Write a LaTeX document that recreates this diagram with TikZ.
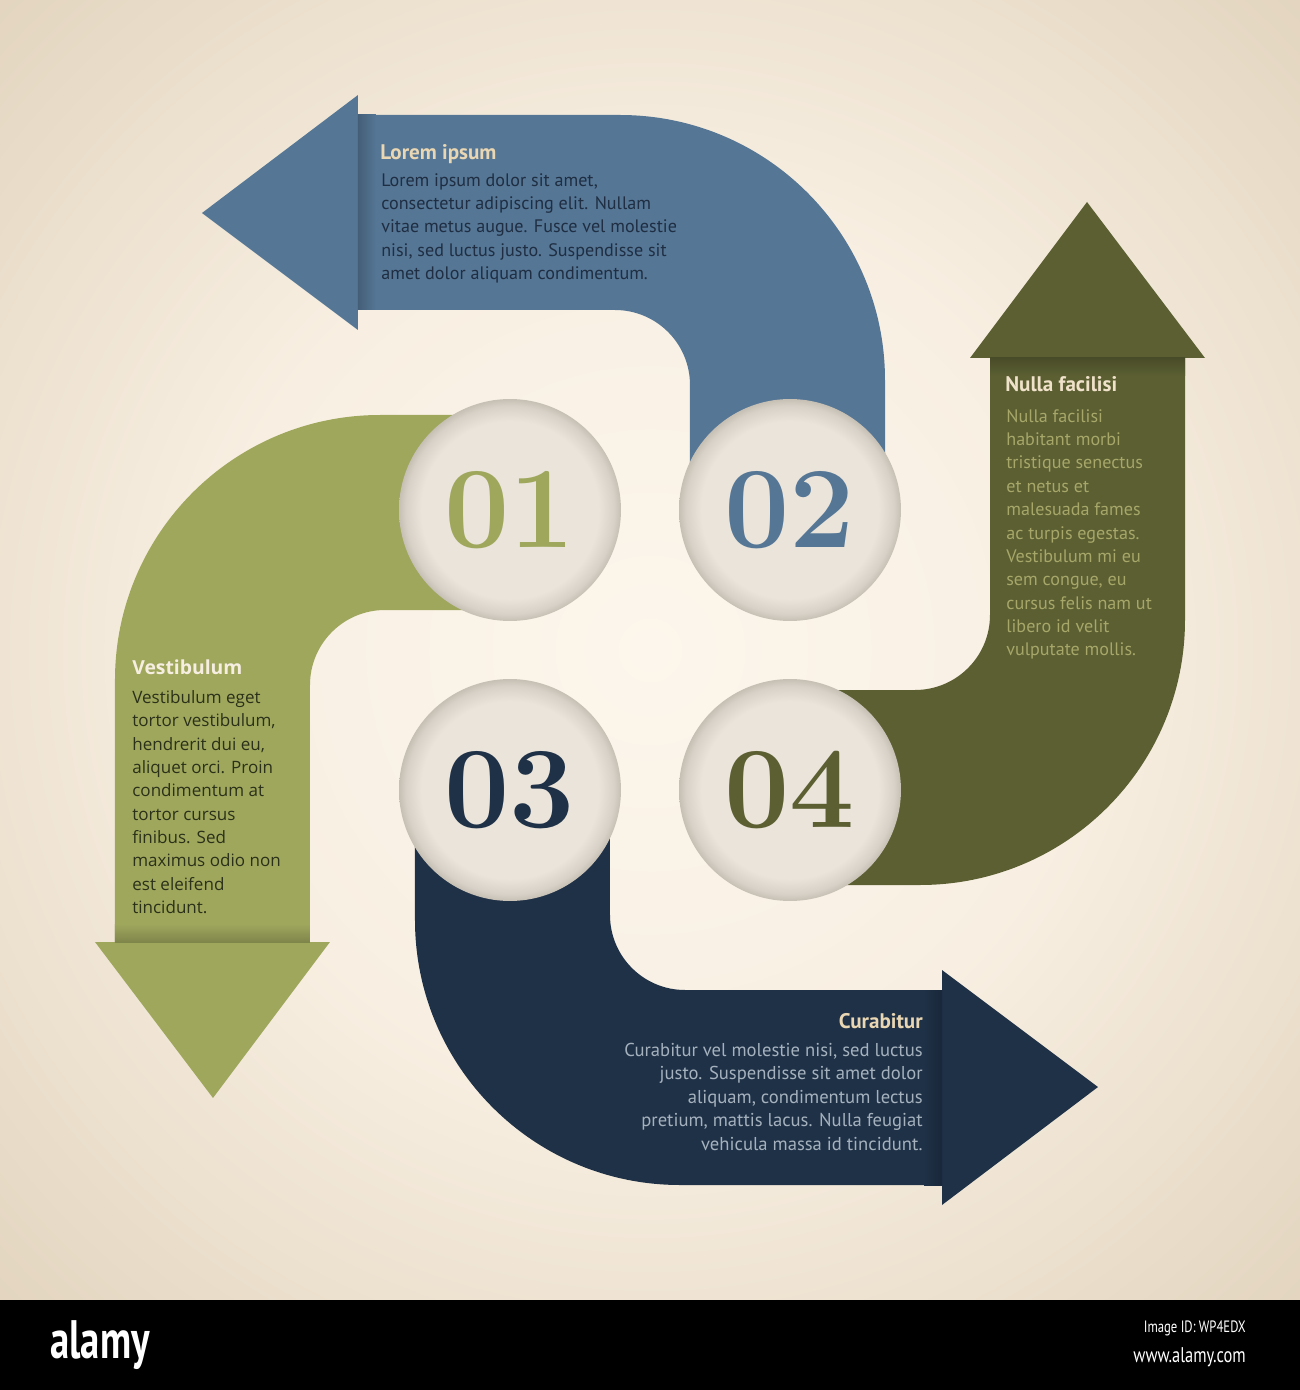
\documentclass[tikz,border=0pt]{standalone}
\usepackage{fontspec}
\usepackage{graphicx}
\newfontfamily\ptsans{PT Sans}
\newfontfamily\opensans{Open Sans}

\definecolor{bgin}{HTML}{FCF6EC}
\definecolor{bgmid}{HTML}{F8EFE2}
\definecolor{bgrim}{HTML}{EFE4D3}
\definecolor{bgout}{HTML}{E2D4BE}
\definecolor{stepblue}{HTML}{557695}
\definecolor{stepgreen}{HTML}{9FA75D}
\definecolor{stepnavy}{HTML}{1F3147}
\definecolor{stepolive}{HTML}{5B5F32}
\definecolor{holefill}{HTML}{EAE4DA}
\definecolor{holerim}{HTML}{D8D1C7}
\definecolor{holeedge}{HTML}{C6BFB4}
\definecolor{creamhead}{HTML}{E9D6B3}
\definecolor{bluetxt}{HTML}{1F2E42}
\definecolor{olivetxt}{HTML}{A6A769}
\definecolor{greentxt}{HTML}{2B3119}
\definecolor{navytxt}{HTML}{A5B1BD}

\pgfdeclareradialshading{holeshade}{\pgfpoint{0bp}{0bp}}{color(0bp)=(holefill); color(20bp)=(holefill); color(23.5bp)=(holerim); color(25bp)=(holeedge); color(50bp)=(holeedge)}
\pgfdeclareradialshading{paper}{\pgfpoint{0bp}{0bp}}{color(0bp)=(bgin); color(17bp)=(bgmid); color(25bp)=(bgrim); color(36bp)=(bgout); color(50bp)=(bgout)}

\newcommand\digitfont{\fontsize{66}{66}\selectfont\bfseries}
\newcommand\headfont{\ptsans\bfseries\fontsize{12}{14}\selectfont}
\newcommand\bodyfont{\ptsans\fontsize{10.3}{13.3}\selectfont}
% one bent arrow, drawn for the top band and turned for the others
\newcommand\arrowpath{(-448,437) -- (-292,555) -- (-292,535) -- (-30,535)
  arc[start angle=90, end angle=0, radius=265] -- (235,140) -- (40,140) -- (40,265)
  arc[start angle=0, end angle=90, radius=75] -- (-292,340) -- (-292,320) -- cycle}

\tikzset{
  band/.style={fill=#1},
  hole/.style={circle, minimum size=4.44cm, inner sep=0pt, shade, shading=holeshade, font=\digitfont},
  headtxt/.style={font=\headfont, anchor=base west, inner sep=0pt},
  bodytxt/.style={font=\bodyfont, align=left, anchor=north west, inner sep=0pt},
}

\begin{document}
\begin{tikzpicture}[x=0.02cm, y=0.02cm]
  \useasboundingbox (-650,650) rectangle (650,-740);
  \shade[shading=paper] (-650,650) rectangle (650,-650);
  \fill[black] (-650,-650) rectangle (650,-740);

  % arrows
  \begin{scope}[rotate=0]
    \fill[band=stepblue] \arrowpath;
  \end{scope}
  \begin{scope}[rotate=90]
    \fill[band=stepgreen] \arrowpath;
  \end{scope}
  \begin{scope}[rotate=180]
    \fill[band=stepnavy] \arrowpath;
  \end{scope}
  \begin{scope}[rotate=270]
    \fill[band=stepolive] \arrowpath;
  \end{scope}
  % folds next to the heads
  \shade[left color=stepblue!80!black, right color=stepblue] (-292,340) rectangle (-274,535);
  \shade[bottom color=stepgreen!80!black, top color=stepgreen] (-535,-292) rectangle (-340,-274);
  \shade[right color=stepnavy!80!black, left color=stepnavy] (274,-535) rectangle (292,-340);
  \shade[top color=stepolive!80!black, bottom color=stepolive] (340,274) rectangle (535,292);

  % numbered holes
  \node[hole, text=stepgreen] (s01) at (-140,140) {01};
  \node[hole, text=stepblue] (s02) at (140,140) {02};
  \node[hole, text=stepnavy] (s03) at (-140,-140) {03};
  \node[hole, text=stepolive] (s04) at (140,-140) {04};

  % texts
  \node[headtxt, text=creamhead] (lorem) at (-270,490) {Lorem ipsum};
  \node[bodytxt, text=bluetxt] (loremtxt) at (-269,477) {Lorem ipsum dolor sit amet,\\
    consectetur adipiscing elit. Nullam\\vitae metus augue. Fusce vel molestie\\
    nisi, sed luctus justo. Suspendisse sit\\amet dolor aliquam condimentum.};

  \node[headtxt, text=creamhead!70!white] (nulla) at (355,258) {Nulla facilisi};
  \node[bodytxt, text=olivetxt] (nullatxt) at (356,241) {Nulla facilisi\\habitant morbi\\
    tristique senectus\\et netus et\\malesuada fames\\ac turpis egestas.\\
    Vestibulum mi eu\\sem congue, eu\\cursus felis nam ut\\libero id velit\\vulputate mollis.};

  \node[headtxt, font=\opensans\bfseries\fontsize{11}{13}\selectfont, text=creamhead!40!white] (vesti) at (-518,-24) {Vestibulum};
  \node[bodytxt, font=\opensans\fontsize{9.7}{13.3}\selectfont, text=greentxt] (vestitxt) at (-518,-40) {Vestibulum eget\\
    tortor vestibulum,\\hendrerit dui eu,\\aliquet orci. Proin\\condimentum at\\
    tortor cursus\\finibus. Sed\\maximus odio non\\est eleifend\\tincidunt.};

  \node[headtxt, anchor=base east, text=creamhead] (curab) at (273,-378) {Curabitur};
  \node[bodytxt, anchor=north east, align=right, font=\ptsans\fontsize{10.6}{13.3}\selectfont, text=navytxt] (curabtxt) at (273,-393) {Curabitur vel molestie nisi, sed luctus\\
    justo. Suspendisse sit amet dolor\\aliquam, condimentum lectus\\
    pretium, mattis lacus. Nulla feugiat\\vehicula massa id tincidunt.};

  % footer
  \node[text=white, font=\ptsans\bfseries\fontsize{22}{22}\selectfont] (logo) at (-550,-695) {\scalebox{1}[1.4]{alamy}};
  \node[text=white, anchor=east, font=\ptsans\fontsize{8.5}{10}\selectfont] (imgid) at (602,-678) {\scalebox{0.85}[1.1]{Image ID: WP4EDX}};
  \node[text=white, anchor=east, font=\ptsans\fontsize{11}{12}\selectfont] (site) at (602,-707) {\scalebox{0.85}[1.1]{www.alamy.com}};
\end{tikzpicture}
\end{document}
